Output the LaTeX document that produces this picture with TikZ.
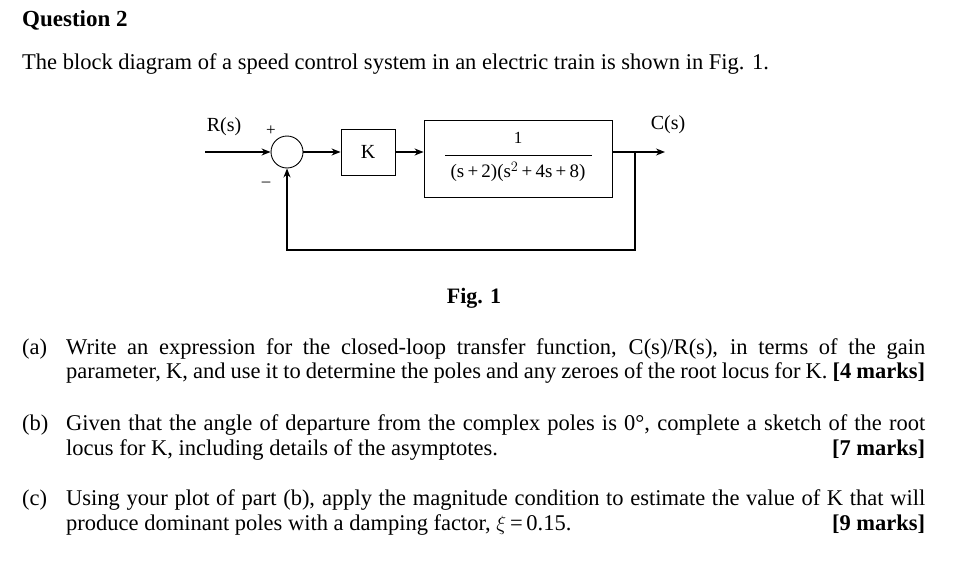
\documentclass[tikz,border=0pt]{standalone}
\usepackage{fontspec}
\setmainfont{Liberation Serif}
\usetikzlibrary{arrows.meta}
\begin{document}
\begin{tikzpicture}[x=1pt,y=-1pt,
  blk/.style={draw,line width=0.9pt,inner sep=0pt},
  wire/.style={line width=1.2pt},
  arr/.style={wire,-{Stealth[length=9pt,width=7pt]}},
  txt/.style={anchor=west,inner sep=0pt,font=\fontsize{22.5}{26}\selectfont},
  lbl/.style={inner sep=0pt,font=\fontsize{20}{24}\selectfont}]
\useasboundingbox (0,0) rectangle (976,562);
\node[txt,font=\fontsize{23}{26}\bfseries] (q) at (22,20) {Question 2};
\node[txt] (intro) at (22,64) {The block diagram of a speed control system in an electric train is shown in Fig. 1.};
% diagram
\coordinate (in) at (205,152);
\node[draw,circle,line width=0.9pt,minimum size=32pt,inner sep=0pt] (sum) at (287,152) {};
\node[blk,minimum width=54pt,minimum height=46pt,lbl] (k) at (368,152) {K};
\node[blk,minimum width=188pt,minimum height=77pt] (g) at (518,158.5) {};
\node[lbl,font=\fontsize{17}{20}\selectfont] (num) at (518,138) {1};
\node[lbl,font=\fontsize{19}{22}\selectfont] (den) at (518,172) {(s\,+\,2)(s$^{2}$\,+\,4s\,+\,8)};
\draw[line width=0.8pt] (445,155) -- (592,155);
\coordinate (br) at (635,152);
\coordinate (out) at (665,152);
\coordinate (fb1) at (635,250);
\coordinate (fb2) at (287,250);
\draw[arr] (in) -- (sum.west);
\draw[arr] (sum.east) -- (k.west);
\draw[arr] (k.east) -- (g.west|-k.east);
\draw[arr] (g.east|-br) -- (out);
\draw[arr] (br) -- (fb1) -- (fb2) -- (sum.south);
\node[lbl] (r) at (224,127) {R(s)};
\node[lbl] (c) at (668,125) {C(s)};
\node[lbl,font=\fontsize{17}{20}\selectfont] (p) at (271,131) {+};
\node[lbl,font=\fontsize{17}{20}\selectfont] (m) at (266,184) {--};
\node[inner sep=0pt,font=\fontsize{22}{26}\bfseries] (fig) at (474,298) {Fig. 1};
% questions
\node[txt] (a) at (22,349) {(a)};
\node[txt] (a1) at (66,349) {\makebox[859pt][s]{Write an expression for the closed-loop transfer function, C(s)/R(s), in terms of the gain}};
\node[txt] (a2) at (66,373) {\makebox[859pt][s]{parameter, K, and use it to determine the poles and any zeroes of the root locus for K. \textbf{[4 marks]}}};
\node[txt] (b) at (22,425) {(b)};
\node[txt] (b1) at (66,425) {\makebox[859pt][s]{Given that the angle of departure from the complex poles is 0\textdegree, complete a sketch of the root}};
\node[txt] (b2) at (66,450) {\makebox[859pt][l]{locus for K, including details of the asymptotes.\hfill\textbf{[7 marks]}}};
\node[txt] (c0) at (22,500) {(c)};
\node[txt] (c1) at (66,500) {\makebox[859pt][s]{Using your plot of part (b), apply the magnitude condition to estimate the value of K that will}};
\node[txt] (c2) at (66,525) {\makebox[859pt][l]{produce dominant poles with a damping factor, $\xi$\,=\,0.15.\hfill\textbf{[9 marks]}}};
\end{tikzpicture}
\end{document}
